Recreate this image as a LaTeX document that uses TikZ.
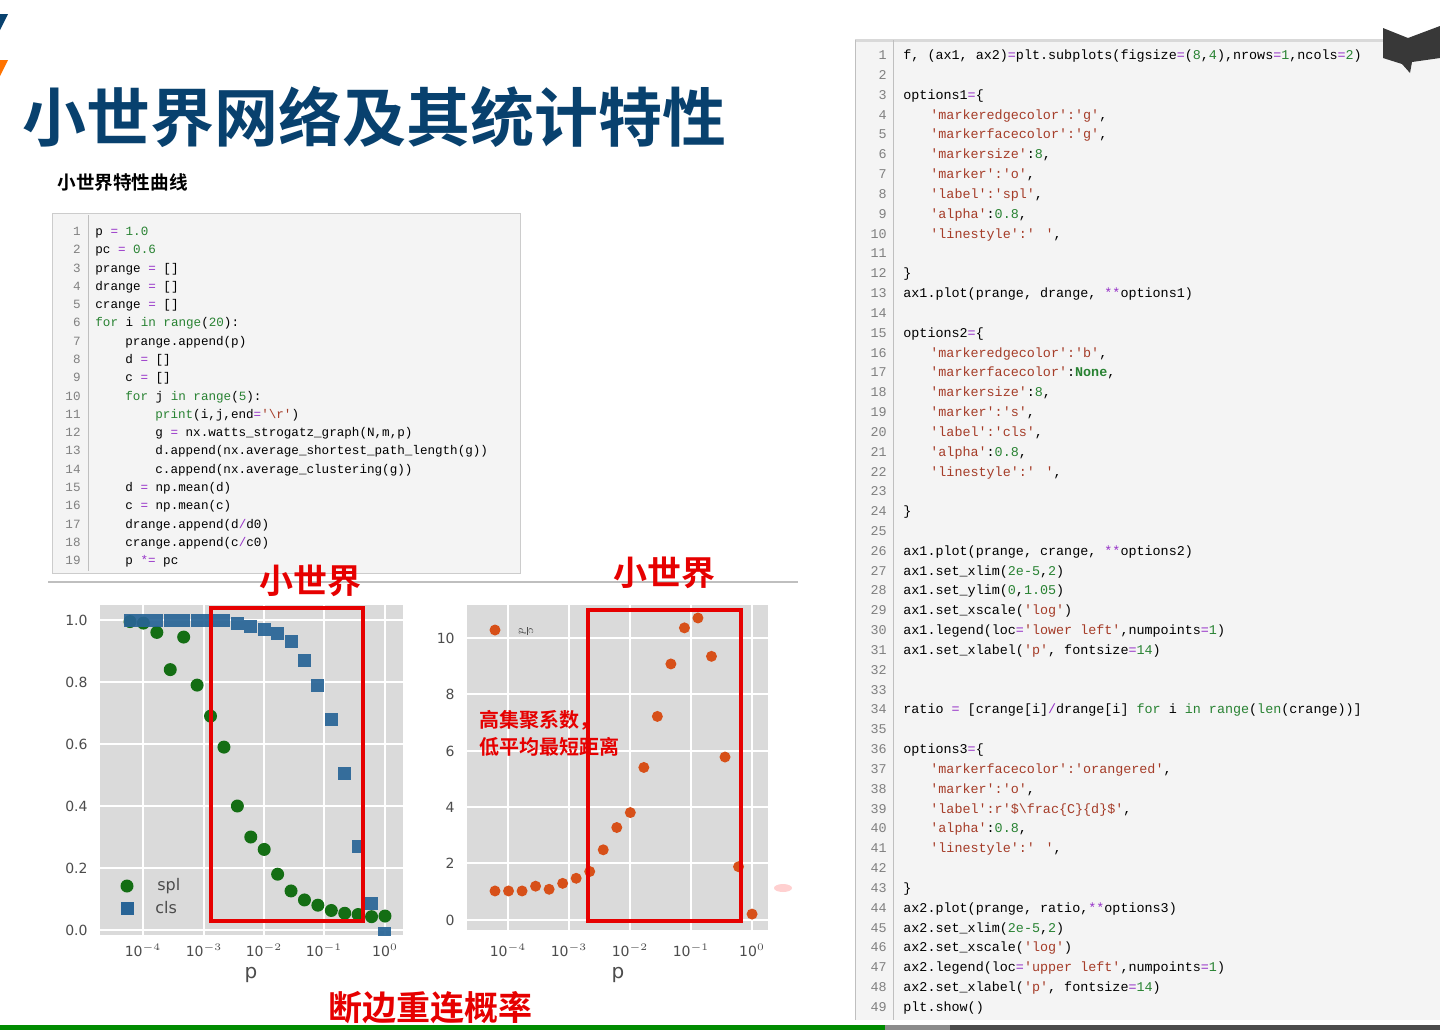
\documentclass[tikz,border=0pt]{standalone}
\usepackage{fontspec}
\setmainfont{DejaVu Sans}
\newfontfamily\cjk{Noto Sans CJK SC}[BoldFont={Noto Sans CJK SC Bold}]
\newfontfamily\codefont{Liberation Mono}
\definecolor{cgreen}{RGB}{40,130,50}
\definecolor{cstr}{RGB}{165,60,40}
\definecolor{cop}{RGB}{150,50,200}
\definecolor{titleblue}{RGB}{8,65,110}
\definecolor{plotbg}{RGB}{218,218,218}
\definecolor{codebg}{RGB}{244,244,244}
\definecolor{ptgreen}{RGB}{20,110,20}
\definecolor{ptblue}{RGB}{40,100,150}
\definecolor{ptorange}{RGB}{215,80,25}
\definecolor{boxred}{RGB}{230,0,0}
\newcommand\kw[1]{\textcolor{cgreen}{#1}}
\newcommand\nm[1]{\textcolor{cgreen}{#1}}
\newcommand\st[1]{\textcolor{cstr}{#1}}
\newcommand\op[1]{\textcolor{cop}{#1}}
\tikzset{
 lcode/.style={anchor=west,inner sep=0pt,font=\codefont\fontsize{6.3}{7}\selectfont,text height=1.5ex,text depth=.3ex},
 lnum/.style={anchor=east,inner sep=0pt,font=\codefont\fontsize{6.3}{7}\selectfont,text=gray,text height=1.5ex,text depth=.3ex},
 rcode/.style={anchor=west,inner sep=0pt,font=\codefont\fontsize{6.7}{7}\selectfont,text height=1.5ex,text depth=.3ex},
 rnum/.style={anchor=east,inner sep=0pt,font=\codefont\fontsize{6.7}{7}\selectfont,text=gray,text height=1.5ex,text depth=.3ex},
 tick/.style={inner sep=0pt,font=\fontsize{7}{8}\selectfont,text=black!70},
 redlbl/.style={inner sep=0pt,text=boxred,font=\cjk\bfseries\fontsize{17}{18}\selectfont},
 redbox/.style={draw=boxred,line width=2pt},
 grid/.style={draw=white,line width=0.7pt},
}
\newcommand\Lc[3]{\node[lcode] (lc#1) at ({95+#2*30},{229+(#1-1)*18.28}) {#3};}
\newcommand\Rc[3]{\node[rcode] (rc#1) at ({903+#2*27},{53+(#1-1)*19.83}) {#3};}
\begin{document}
\begin{tikzpicture}[x=0.5pt,y=-0.5pt]
\useasboundingbox (0,0) rectangle (1440,1030);
\fill[white] (0,0) rectangle (1440,1030);
% corner marks
\fill[titleblue] (0,14) -- (8,14) -- (0,30) -- cycle;
\fill[orange!90!red] (0,60) -- (8,60) -- (0,76) -- cycle;
% title
\node[anchor=west,inner sep=0pt,text=titleblue,font=\cjk\bfseries\fontsize{32}{34}\selectfont] (title) at (22,117) {小世界网络及其统计特性};
\node[anchor=west,inner sep=0pt,font=\cjk\bfseries\fontsize{9.3}{10}\selectfont] (sub) at (57,182) {小世界特性曲线};
% left code box
\filldraw[fill=codebg,draw=black!20] (52,213) rectangle (520,573);
\draw[black!25] (88,215) -- (88,571);
\foreach \n in {1,...,19}{\node[lnum] at (81,{229+(\n-1)*18.28}) {\n};}
\Lc{1}{0}{p \op{=} \nm{1.0}}
\Lc{2}{0}{pc \op{=} \nm{0.6}}
\Lc{3}{0}{prange \op{=} []}
\Lc{4}{0}{drange \op{=} []}
\Lc{5}{0}{crange \op{=} []}
\Lc{6}{0}{\kw{for} i \kw{in} \kw{range}(\nm{20}):}
\Lc{7}{1}{prange.append(p)}
\Lc{8}{1}{d \op{=} []}
\Lc{9}{1}{c \op{=} []}
\Lc{10}{1}{\kw{for} j \kw{in} \kw{range}(\nm{5}):}
\Lc{11}{2}{\kw{print}(i,j,end\op{=}\st{'\textbackslash r'})}
\Lc{12}{2}{g \op{=} nx.watts\_strogatz\_graph(N,m,p)}
\Lc{13}{2}{d.append(nx.average\_shortest\_path\_length(g))}
\Lc{14}{2}{c.append(nx.average\_clustering(g))}
\Lc{15}{1}{d \op{=} np.mean(d)}
\Lc{16}{1}{c \op{=} np.mean(c)}
\Lc{17}{1}{drange.append(d\op{/}d0)}
\Lc{18}{1}{crange.append(c\op{/}c0)}
\Lc{19}{1}{p \op{*=} pc}
\draw[black!25,line width=1pt] (48,582) -- (798,582);
% right code box
\fill[codebg] (855,40) rectangle (1440,1020);
\draw[black!15,line width=1.5pt] (855,40) -- (1440,40);
\draw[black!25] (855,40) -- (855,1020);
\draw[black!25] (893,40) -- (893,1020);
\foreach \n in {1,...,49}{\node[rnum] at (887,{53+(\n-1)*19.83}) {\n};}
\Rc{1}{0}{f, (ax1, ax2)\op{=}plt.subplots(figsize\op{=}(\nm{8},\nm{4}),nrows\op{=}\nm{1},ncols\op{=}\nm{2})}
\Rc{3}{0}{options1\op{=}\{}
\Rc{4}{1}{\st{'markeredgecolor':'g'},}
\Rc{5}{1}{\st{'markerfacecolor':'g'},}
\Rc{6}{1}{\st{'markersize'}:\nm{8},}
\Rc{7}{1}{\st{'marker':'o'},}
\Rc{8}{1}{\st{'label':'spl'},}
\Rc{9}{1}{\st{'alpha'}:\nm{0.8},}
\Rc{10}{1}{\st{'linestyle':' '},}
\Rc{12}{0}{\}}
\Rc{13}{0}{ax1.plot(prange, drange, \op{**}options1)}
\Rc{15}{0}{options2\op{=}\{}
\Rc{16}{1}{\st{'markeredgecolor':'b'},}
\Rc{17}{1}{\st{'markerfacecolor'}:\nm{\bfseries None},}
\Rc{18}{1}{\st{'markersize'}:\nm{8},}
\Rc{19}{1}{\st{'marker':'s'},}
\Rc{20}{1}{\st{'label':'cls'},}
\Rc{21}{1}{\st{'alpha'}:\nm{0.8},}
\Rc{22}{1}{\st{'linestyle':' '},}
\Rc{24}{0}{\}}
\Rc{26}{0}{ax1.plot(prange, crange, \op{**}options2)}
\Rc{27}{0}{ax1.set\_xlim(\nm{2e-5},\nm{2})}
\Rc{28}{0}{ax1.set\_ylim(\nm{0},\nm{1.05})}
\Rc{29}{0}{ax1.set\_xscale(\st{'log'})}
\Rc{30}{0}{ax1.legend(loc\op{=}\st{'lower left'},numpoints\op{=}\nm{1})}
\Rc{31}{0}{ax1.set\_xlabel(\st{'p'}, fontsize\op{=}\nm{14})}
\Rc{34}{0}{ratio \op{=} [crange[i]\op{/}drange[i] \kw{for} i \kw{in} \kw{range}(\kw{len}(crange))]}
\Rc{36}{0}{options3\op{=}\{}
\Rc{37}{1}{\st{'markerfacecolor':'orangered'},}
\Rc{38}{1}{\st{'marker':'o'},}
\Rc{39}{1}{\st{'label':r'\$\textbackslash frac\{C\}\{d\}\$'},}
\Rc{40}{1}{\st{'alpha'}:\nm{0.8},}
\Rc{41}{1}{\st{'linestyle':' '},}
\Rc{43}{0}{\}}
\Rc{44}{0}{ax2.plot(prange, ratio,\op{**}options3)}
\Rc{45}{0}{ax2.set\_xlim(\nm{2e-5},\nm{2})}
\Rc{46}{0}{ax2.set\_xscale(\st{'log'})}
\Rc{47}{0}{ax2.legend(loc\op{=}\st{'upper left'},numpoints\op{=}\nm{1})}
\Rc{48}{0}{ax2.set\_xlabel(\st{'p'}, fontsize\op{=}\nm{14})}
\Rc{49}{0}{plt.show()}
% icon
\fill[black!78] (1383,28) -- (1408,38) -- (1440,26) -- (1440,58) -- (1412,62) -- (1410,73) -- (1402,64) -- (1383,58) -- cycle;
% ---------- plot 1 ----------
\fill[plotbg] (100,605) rectangle (403,935);
\foreach \y in {620,682,744,806,868,930} \draw[grid] (100,\y) -- (403,\y);
\foreach \x in {143,204,264,324,385} \draw[grid] (\x,605) -- (\x,935);
\foreach \v/\y in {1.0/620,0.8/682,0.6/744,0.4/806,0.2/868,0.0/930}
  \node[tick,anchor=east] at (88,\y) {\v};
\foreach \e/\x in {-4/143,-3/204,-2/264,-1/324,0/385}
  \node[tick] at (\x,950) {10$^{\e}$};
\node[tick,font=\fontsize{10}{11}\selectfont] (p1) at (251,975) {p};
\begin{scope}
\clip (100,605) rectangle (403,935);
\foreach \v [count=\j from 0] in {0.995,0.99,0.96,0.84,0.945,0.79,0.69,0.59,0.40,0.30,0.26,0.18,0.126,0.097,0.08,0.063,0.054,0.05,0.043,0.045}
  \fill[ptgreen] ({130+13.42*\j},{930-310*\v}) circle (6.5);
\foreach \v [count=\j from 0] in {1.0,1.0,1.0,1.0,1.0,1.0,0.997,0.997,0.99,0.98,0.97,0.955,0.93,0.87,0.79,0.68,0.505,0.27,0.085,-0.01}
  \fill[ptblue,opacity=0.92] ({130+13.42*\j-6.5},{930-310*\v-6.5}) rectangle +(13,13);
\end{scope}
\fill[ptgreen] (127,886) circle (6.5);
\fill[ptblue] (121,902) rectangle +(13,13);
\node[tick,anchor=west,font=\fontsize{8}{9}\selectfont] (spl) at (157,886) {spl};
\node[tick,anchor=west,font=\fontsize{8}{9}\selectfont] (cls) at (155,908) {cls};
\draw[redbox] (211,608) rectangle (363,921);
\node[redlbl] (sw1) at (310,581) {小世界};
% ---------- plot 2 ----------
\fill[plotbg] (467,605) rectangle (768,930);
\foreach \y in {638,694,751,807,863,920} \draw[grid] (467,\y) -- (768,\y);
\foreach \x in {508,569,630,691,752} \draw[grid] (\x,605) -- (\x,930);
\foreach \v/\y in {10/638,8/694,6/751,4/807,2/863,0/920}
  \node[tick,anchor=east] at (455,\y) {\v};
\foreach \e/\x in {-4/508,-3/569,-2/630,-1/691,0/752}
  \node[tick] at (\x,950) {10$^{\e}$};
\node[tick,font=\fontsize{10}{11}\selectfont] (p2) at (618,975) {p};
\foreach \v [count=\j from 0] in {1.03,1.03,1.03,1.2,1.09,1.3,1.48,1.72,2.49,3.28,3.81,5.41,7.22,9.08,10.36,10.71,9.35,5.78,1.89,0.21}
  \fill[ptorange] ({495+13.53*\j},{920-28.2*\v}) circle (5.5);
\fill[ptorange] (495,630) circle (5.5);
\node[tick,rotate=-90,font=\fontsize{7}{8}\selectfont] (cd) at (526,631) {$\frac{c}{d}$};
\draw[redbox] (588,610) rectangle (741,921);
\node[redlbl] (sw2) at (664,573) {小世界};
\node[anchor=north west,inner sep=0pt,align=left,text=boxred,font=\cjk\bfseries\fontsize{10}{13.5}\selectfont] (hc) at (479,710) {高集聚系数，\\低平均最短距离};
\fill[red!30,opacity=0.6] (783,888) ellipse (9 and 4);
% bottom label
\node[redlbl] (bx) at (430,1008) {断边重连概率};
% progress bar
\fill[green!55!black] (0,1025) rectangle (885,1030);
\fill[black!45] (885,1025) rectangle (950,1030);
\fill[black!70] (950,1025) rectangle (1440,1030);
\end{tikzpicture}
\end{document}
